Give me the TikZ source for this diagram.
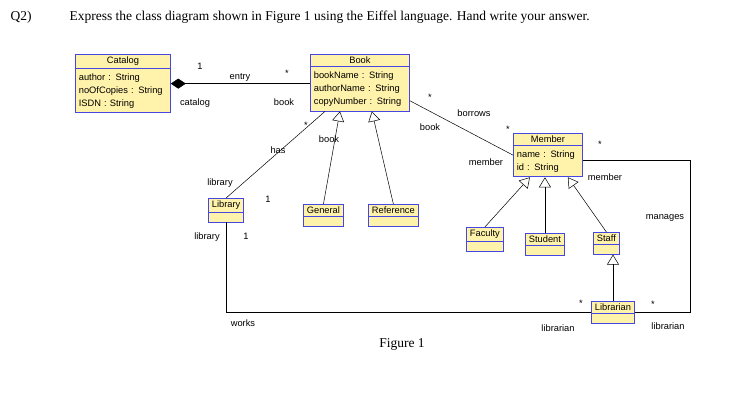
\documentclass[tikz,border=0pt]{standalone}
\usepackage{fontspec}
\setmainfont{Liberation Serif}
\newfontfamily\umlfont{Liberation Sans}
\usetikzlibrary{shapes.multipart,arrows.meta}
\definecolor{umlyellow}{RGB}{255,242,170}
\definecolor{umlblue}{RGB}{70,70,225}
\tikzset{
  class/.style={rectangle split, rectangle split parts=2, draw=umlblue, fill=umlyellow,
    line width=0.8pt, font=\umlfont\fontsize{9.3}{10.5}\selectfont, inner xsep=3.5pt, inner ysep=2.2pt,
    rectangle split empty part height=2pt, anchor=north west},
  lbl/.style={font=\umlfont\fontsize{9.3}{10.5}\selectfont, inner sep=0pt},
  assoc/.style={draw, line width=0.5pt},
  inherit/.style={draw, line width=0.5pt, -{Triangle[open,length=10pt,width=12pt]}},
  owns/.style={draw, line width=0.5pt, {Diamond[length=15pt,width=10pt]}-}
}
\begin{document}
\begin{tikzpicture}[x=1pt,y=-1pt]
    \useasboundingbox (0,0) rectangle (746,410);

    \node[anchor=west, font=\fontsize{13.5}{15}\selectfont] (q) at (7,17) {Q2)};
    \node[anchor=west, font=\fontsize{13.5}{15}\selectfont] (task) at (66,17) {Express the class diagram shown in Figure 1 using the Eiffel language. Hand write your answer.};

    % classes
    \node[class, text width=88pt] (catalog) at (75,54) {\makebox[88pt]{Catalog}
        \nodepart{two}\renewcommand{\arraystretch}{1.25}\begin{tabular}{@{}l@{}}author : String\\ noOfCopies : String\\ ISDN : String\end{tabular}};
    \node[class, text width=92pt] (book) at (310,54) {\makebox[92pt]{Book}
        \nodepart{two}\renewcommand{\arraystretch}{1.25}\begin{tabular}{@{}l@{}}bookName : String\\ authorName : String\\ copyNumber : String\end{tabular}};
    \node[class, text width=62pt] (member) at (513,133) {\makebox[62pt]{Member}
        \nodepart{two}\renewcommand{\arraystretch}{1.25}\begin{tabular}{@{}l@{}}name : String\\ id : String\end{tabular}};
    \node[class] (library) at (208,198) {Library\nodepart{two}{}};
    \node[class] (general) at (303,204) {General\nodepart{two}{}};
    \node[class] (reference) at (368,204) {Reference\nodepart{two}{}};
    \node[class] (faculty) at (466,227) {Faculty\nodepart{two}{}};
    \node[class] (student) at (525,233) {Student\nodepart{two}{}};
    \node[class] (staff) at (593,232) {Staff\nodepart{two}{}};
    \node[class] (librarian) at (591,301) {Librarian\nodepart{two}{}};

    % associations
    \path[owns] (catalog.east) -- (book.west |- catalog.east);
    \path[assoc] (book.south west) ++(15,0) coordinate (bk1) -- (library.north);
    \path[assoc] (book.east) ++(0,18) coordinate (bk2) -- (member.west);
    \path[inherit] (general.north) -- ([xshift=-20pt]book.south);
    \path[inherit] (reference.north) -- ([xshift=12pt]book.south);
    \path[inherit] (faculty.north) -- ([xshift=-18pt]member.south);
    \path[inherit] (student.north) -- (student.north |- member.south);
    \path[inherit] (staff.north) -- ([xshift=20pt]member.south);
    \path[inherit] (librarian.north) -- (librarian.north |- staff.south);
    \coordinate (mg) at (690,160);
    \path[assoc] (member.east |- mg) -- (mg) -- (mg |- librarian.east) -- (librarian.east);
    \path[assoc] (library.south) -- (library.south |- librarian.west) -- (librarian.west);

    % labels
    \node[lbl] at (200,66) {1};
    \node[lbl] at (240,77) {entry};
    \node[lbl] at (287,73) {*};
    \node[lbl] at (195,103) {catalog};
    \node[lbl] at (284,102) {book};
    \node[lbl] at (306,125) {*};
    \node[lbl] at (278,150) {has};
    \node[lbl] at (220,183) {library};
    \node[lbl] at (268,199) {1};
    \node[lbl] at (329,139) {book};
    \node[lbl] at (430,97) {*};
    \node[lbl] at (474,113) {borrows};
    \node[lbl] at (430,127) {book};
    \node[lbl] at (508,129) {*};
    \node[lbl] at (486,162) {member};
    \node[lbl] at (600,144) {*};
    \node[lbl] at (605,177) {member};
    \node[lbl] at (665,218) {manages};
    \node[lbl] at (653,304) {*};
    \node[lbl] at (668,326) {librarian};
    \node[lbl] at (207,237) {library};
    \node[lbl] at (246,236) {1};
    \node[lbl] at (243,323) {works};
    \node[lbl] at (581,303) {*};
    \node[lbl] at (558,328) {librarian};

    \node[font=\fontsize{13.5}{15}\selectfont] (fig) at (402,344) {Figure 1};
\end{tikzpicture}
\end{document}
